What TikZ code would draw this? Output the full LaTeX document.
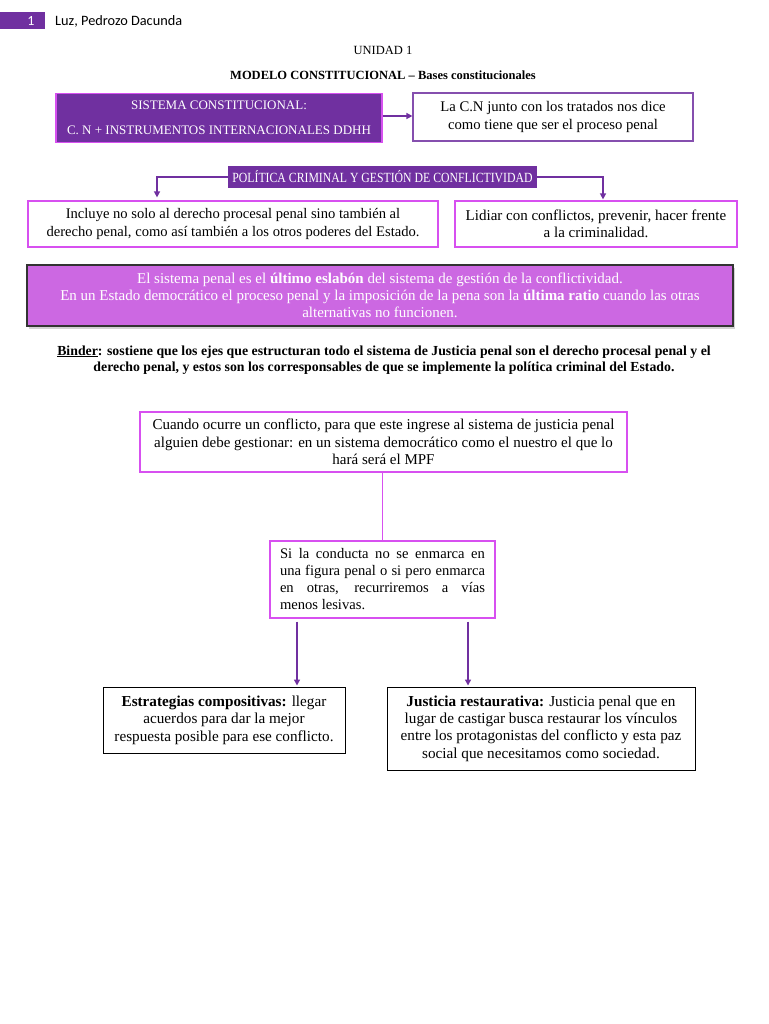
\documentclass[tikz,border=0pt]{standalone}
\usepackage{fontspec}
\setmainfont{Liberation Serif}
\newfontfamily\hdr{Carlito}
\newfontfamily\cond[FakeStretch=0.84]{Liberation Serif}
\usetikzlibrary{arrows.meta,shadows}
\definecolor{purp}{HTML}{7030A0}
\definecolor{mag}{RGB}{215,80,240}
\definecolor{vio}{RGB}{204,104,226}
\newcommand{\jl}[1]{\hbox to 205pt{\spaceskip=0.25em plus 1fil minus 0.2em #1}}
\begin{document}
\begin{tikzpicture}[x=1pt,y=-1pt,
  box/.style={draw, line width=1.2pt, inner sep=0pt, align=center, font=\fontsize{15}{17.3}\selectfont},
  arr/.style={draw=purp, line width=1.4pt, -{Triangle[length=6pt,width=6pt]}},
  conn/.style={draw=mag, line width=1.6pt},
]
\useasboundingbox (0,0) rectangle (768,1024);
% header
\node[fill=purp, minimum width=45, minimum height=17, inner sep=0pt, anchor=north west] (pg) at (0,12) {};
\node[text=white, font=\hdr\fontsize{14}{14}\selectfont, inner sep=0pt] (pgn) at (31,21) {1};
\node[anchor=west, font=\hdr\fontsize{14.3}{14.3}\selectfont, inner sep=0pt] (au) at (55,21) {Luz, Pedrozo Dacunda};
% titles
\node[font=\fontsize{12.5}{15}\selectfont] (u1) at (383,50) {UNIDAD 1};
\node[font=\bfseries\fontsize{12.5}{15}\selectfont] (tt) at (383,75) {MODELO CONSTITUCIONAL -- Bases constitucionales};
% row 1
\node[box, draw=mag, fill=purp, text=white, minimum width=326, minimum height=49,
      font=\fontsize{13}{25}\selectfont] (b1) at (219,118)
  {SISTEMA CONSTITUCIONAL:\\C. N + INSTRUMENTOS INTERNACIONALES DDHH};
\node[box, draw=purp!85, minimum width=280, minimum height=48, font=\fontsize{14.7}{17.5}\selectfont] (b2) at (553,117)
  {La C.N junto con los tratados nos dice\\como tiene que ser el proceso penal};
\draw[arr] ([yshift=2pt]b1.east) -- ([yshift=2pt]b1.east -| b2.west);
% row 2
\node[fill=purp, text=white, minimum width=309, minimum height=22, inner sep=0pt,
      font=\cond\fontsize{14}{14}\selectfont] (lab) at (382.5,177)
  {POLÍTICA CRIMINAL Y GESTIÓN DE CONFLICTIVIDAD};
\node[box, draw=mag, minimum width=410, minimum height=46, font=\fontsize{14.6}{17.3}\selectfont] (b3) at (233,224)
  {Incluye no solo al derecho procesal penal sino también al\\derecho penal, como así también a los otros poderes del Estado.};
\node[box, draw=mag, minimum width=282, minimum height=46] (b4) at (596,224)
  {Lidiar con conflictos, prevenir, hacer frente\\a la criminalidad.};
\draw[arr, shorten >=3pt] (lab.west) -| ([xshift=-76pt]b3.north);
\draw[arr, shorten >=1pt] (lab.east) -| ([xshift=7pt]b4.north);
% big box
\node[box, draw=black!80, line width=1.5pt, fill=vio, text=white, minimum width=706, minimum height=61,
      drop shadow={opacity=0.35, shadow xshift=2pt, shadow yshift=-3pt}] (b5) at (380,295.5)
  {El sistema penal es el \textbf{último eslabón} del sistema de gestión de la conflictividad.\\
   En un Estado democrático el proceso penal y la imposición de la pena son la \textbf{última ratio} cuando las otras\\
   alternativas no funcionen.};
% Binder
\node[align=center, inner sep=0pt, font=\bfseries\fontsize{13.8}{16.5}\selectfont] (bd) at (384,360)
  {\underline{Binder}: sostiene que los ejes que estructuran todo el sistema de Justicia penal son el derecho procesal penal y el\\
   derecho penal, y estos son los corresponsables de que se implemente la política criminal del Estado.};
% lower chart
\node[box, draw=mag, minimum width=487, minimum height=60] (b6) at (383.5,442)
  {Cuando ocurre un conflicto, para que este ingrese al sistema de justicia penal\\
   alguien debe gestionar: en un sistema democrático como el nuestro el que lo\\
   hará será el MPF};
\node[box, draw=mag, minimum width=225, minimum height=77, align=left, font=\fontsize{14.6}{17}\selectfont] (b7) at (382.5,579.5)
  {\jl{Si la conducta no se enmarca en}\\
   \jl{una figura penal o si pero enmarca}\\
   \jl{en otras, recurriremos a vías}\\
   \makebox[205pt][l]{menos lesivas.}};
\draw[conn] (b7.north |- b6.south) -- (b7.north);
\node[box, draw=black, line width=1pt, minimum width=242, minimum height=66, font=\fontsize{15.2}{17.5}\selectfont] (b8) at (224,720)
  {\textbf{Estrategias compositivas:} llegar\\acuerdos para dar la mejor\\respuesta posible para ese conflicto.};
\node[box, draw=black, line width=1pt, minimum width=308, minimum height=83, font=\fontsize{15.2}{17.3}\selectfont] (b9) at (541,728.5)
  {\textbf{Justicia restaurativa:} Justicia penal que en\\lugar de castigar busca restaurar los vínculos\\entre los protagonistas del conflicto y esta paz\\social que necesitamos como sociedad.};
\coordinate (a1) at ([xshift=-85.5pt,yshift=-3pt]b7.south);
\coordinate (a2) at ([xshift=85.5pt,yshift=-3pt]b7.south);
\draw[arr, shorten >=1pt] (a1) -- (a1 |- b8.north);
\draw[arr, shorten >=1pt] (a2) -- (a2 |- b9.north);
\end{tikzpicture}
\end{document}
